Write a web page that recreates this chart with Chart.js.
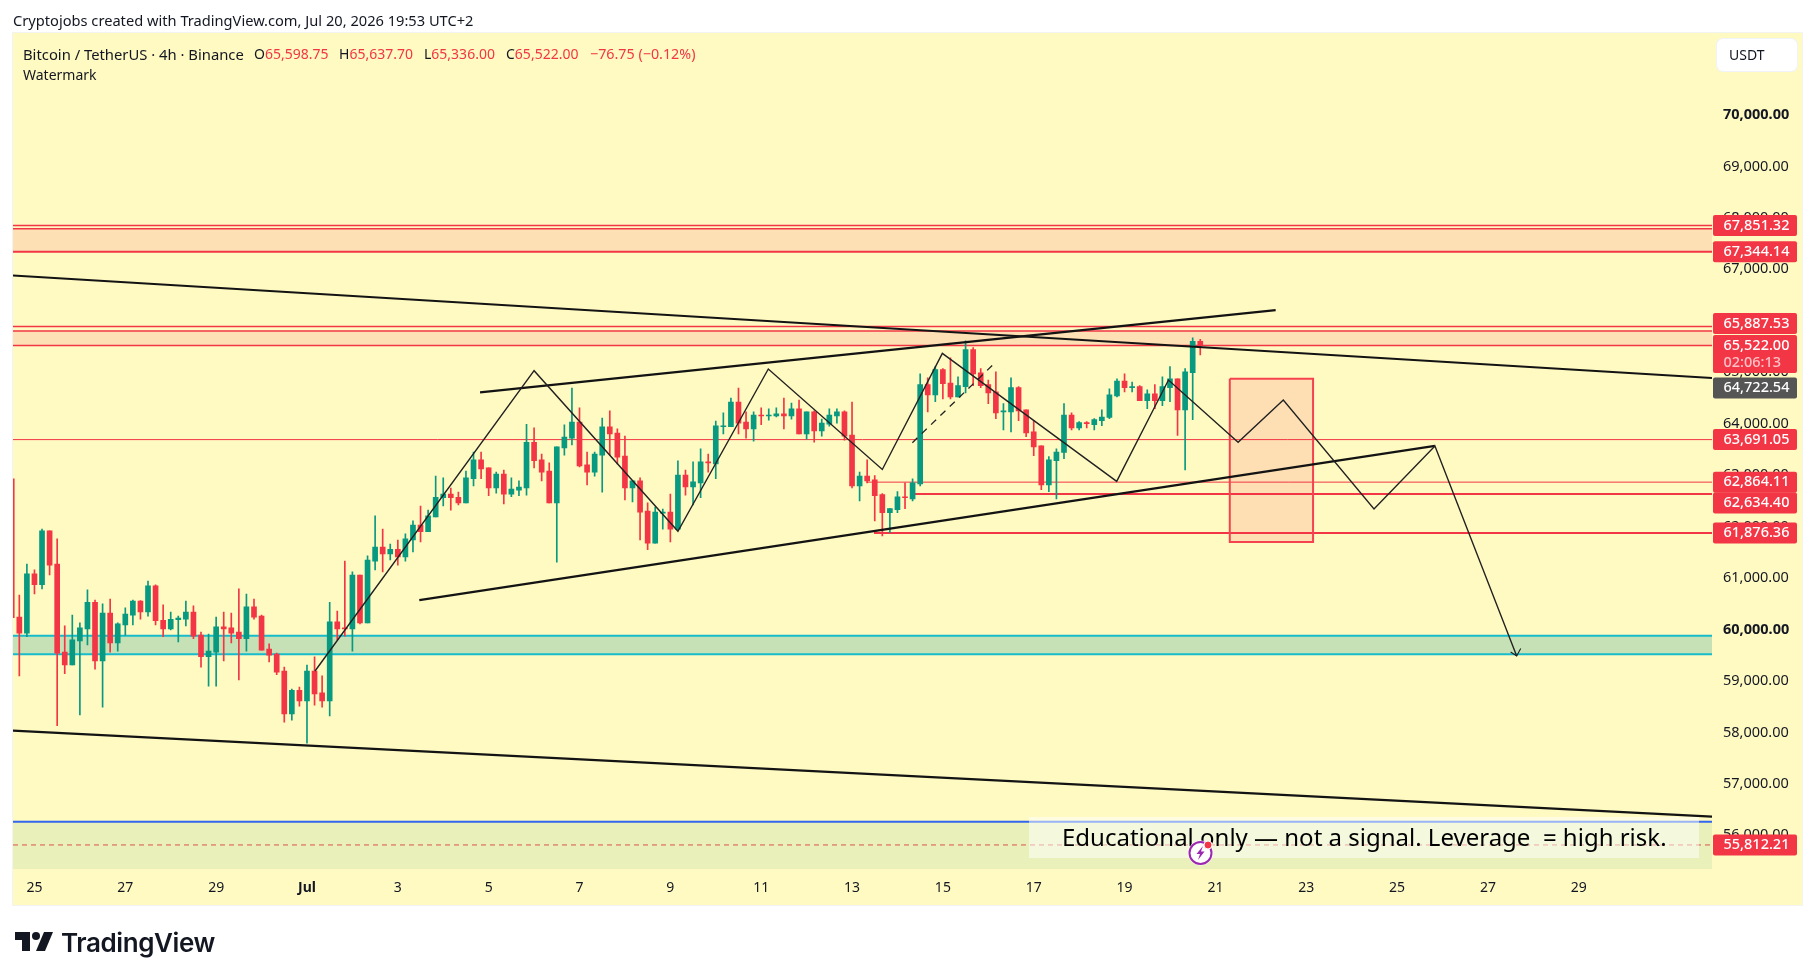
<!DOCTYPE html>
<html>
<head>
<meta charset="utf-8">
<title>BTC / USDT 4h</title>
<script src="https://cdn.jsdelivr.net/npm/chart.js@4"></script>
<style>
    html, body { margin: 0; padding: 0; background: #fff; overflow: hidden; }
    body { width: 1815px; height: 980px; position: relative; font-family: 'Noto Sans', sans-serif; color: #131722; }
    canvas { position: absolute; left: 0; top: 0; }
    .txt { position: absolute; white-space: nowrap; font-size: 14px; line-height: 18px; }
    .red { color: #f23645; }
    #usdt { position: absolute; left: 1717px; top: 39px; width: 80px; height: 32px; background: #fff; border-radius: 6px; box-shadow: 0 0 0 1px #f0f3fa; font-size: 14px; line-height: 32px; text-indent: 12px; }
    #note { position: absolute; left: 1029px; top: 817px; width: 670px; height: 41px; background: rgba(255,255,255,0.5); }
    #note-text { position: absolute; left: 1062px; top: 819px; font-size: 24px; line-height: 36px; color: #000; white-space: nowrap; }
    #bolt { position: absolute; left: 1186px; top: 838px; }
    #logo { position: absolute; left: 15px; top: 932px; }
    #logo-text { position: absolute; left: 61px; top: 925px; font-family: Inter, sans-serif; font-weight: 600; font-size: 26px; line-height: 36px; color: #131722; letter-spacing: -0.4px; }
</style>
</head>
<body>
<canvas id="chart" width="1815" height="980"></canvas>

<div class="txt" style="left:13px;top:11px;font-size:14.65px">Cryptojobs created with TradingView.com, Jul 20, 2026 19:53 UTC+2</div>
<div class="txt" style="left:23px;top:45px;font-size:14.8px">Bitcoin / TetherUS · 4h · Binance</div>
<div class="txt" style="left:254px;top:45px">O<span class="red">65,598.75</span></div>
<div class="txt" style="left:339px;top:45px">H<span class="red">65,637.70</span></div>
<div class="txt" style="left:424px;top:45px">L<span class="red">65,336.00</span></div>
<div class="txt" style="left:506px;top:45px">C<span class="red">65,522.00</span></div>
<div class="txt red" style="left:590px;top:45px;font-size:14.3px">−76.75 (−0.12%)</div>
<div class="txt" style="left:23px;top:66px">Watermark</div>
<div id="usdt">USDT</div>

<div id="note"></div>
<div id="note-text">Educational only — not a signal. Leverage&nbsp; = high risk.</div>
<svg id="bolt" width="30" height="30" viewBox="0 0 30 30">
    <circle cx="14.5" cy="15" r="12.5" fill="#fff"/>
    <circle cx="14.5" cy="15" r="11" fill="#fff" stroke="#9c27b0" stroke-width="2"/>
    <path d="M17 8 L10.5 16 L14 16 L12 22 L18.5 13.5 L15 13.5 Z" fill="#9c27b0"/>
    <circle cx="22" cy="7" r="4" fill="#f23645" stroke="#fff" stroke-width="1"/>
</svg>

<svg id="logo" width="40" height="20" viewBox="0 0 40 20">
    <path d="M0 0 H15 V19 H7 V8 H0 Z" fill="#131722"/>
    <circle cx="21" cy="4" r="4" fill="#131722"/>
    <path d="M29 0 H38 L30 19 H21 Z" fill="#131722"/>
</svg>
<div id="logo-text">TradingView</div>

<script>
// BTC/USDT 4h candles (candle 1 is clipped by the left edge)
const opens = [62930,60240,59930,61080,60870,61920,61270,59560,59310,59780,
    60010,60530,59390,60320,59740,60090,60280,60550,60340,60850,
    60180,60010,60190,60200,60340,59890,59470,59560,60050,60030,
    59950,59820,60440,60260,59620,59520,59190,58360,58820,58610,
    59190,58770,58610,60150,60030,60010,61060,60130,61330,61600,
    61470,61560,61410,61740,62030,61900,62190,62560,62630,62570,
    62460,62930,63300,63140,62750,63020,62630,62710,62750,63640,
    63300,63080,62460,63530,63720,64030,63200,63060,63390,63940,
    63820,63370,62750,62890,62300,61680,62260,62280,61950,63000,
    62770,62850,63260,63220,63940,63940,64420,64030,63900,64170,
    64150,64150,64190,64150,64290,63800,64230,63860,63990,64150,
    64230,63780,62790,62980,62910,62620,62270,62330,62580,62540,
    62830,64760,64560,65050,64790,64520,64720,65440,64990,64760,
    64620,64230,64230,64700,64270,63840,63570,62810,63280,63440,
    64170,63920,64020,63980,64060,64120,64540,64830,64700,64720,
    64450,64580,64450,64700,64870,64270,64990,65598.75];
const highs = [62990,60670,61270,61160,61950,61920,61760,60070,60280,60130,
    60770,60570,60500,60590,60130,60420,60570,60560,60940,60870,
    60480,60340,60260,60550,60460,59950,59910,60240,60340,60320,
    60790,60690,60590,60280,59720,59540,59270,58840,58880,59310,
    59470,59100,60530,60360,61330,61120,61060,61430,62210,61950,
    61660,61740,61860,62110,62400,62320,62980,62950,62750,62670,
    63080,63450,63450,63140,63060,63100,62950,62890,63990,63920,
    63410,63240,63550,63980,64690,64310,63450,63450,64110,64250,
    63900,63760,62890,62950,62460,62380,62340,62630,63280,63100,
    63260,63510,63410,64050,64210,64500,64690,64230,64230,64310,
    64290,64310,64500,64400,64460,64230,64250,64090,64290,64290,
    64250,64420,63060,63300,62990,62640,62350,62680,62850,62930,
    64970,64890,65110,65070,65280,64910,65610,65480,65070,64850,
    65010,64390,64890,64720,64270,64060,63570,63360,63510,64390,
    64210,64040,64040,64100,64270,64680,64870,64970,64810,64740,
    64660,64760,64910,65110,64870,65070,65670,65637.7];
const lows = [60100,59100,59860,60690,60790,61060,58130,59140,59310,58340,
    59700,59230,58490,59560,59580,59890,60090,60200,60260,60090,
    59860,59990,59760,60070,59820,59270,58900,58900,59390,59740,
    59020,59580,60200,59600,59370,59120,58200,58240,58510,57790,
    58530,58490,58320,59800,59870,59580,60110,60130,61160,61120,
    61350,61250,61330,61510,61700,61900,62190,62400,62320,62420,
    62460,62790,62930,62600,62650,62440,62580,62600,62610,63140,
    62890,62460,61310,63390,63590,63160,62810,62980,62670,63390,
    63220,62520,62480,61740,61550,61680,61950,61700,61930,62610,
    62420,62560,63060,62930,63800,63940,63800,63720,63660,63980,
    64070,64130,63900,64090,63800,63700,63640,63760,63950,64010,
    63680,62750,62500,62850,62110,61820,61880,62270,62350,62500,
    62790,64230,64430,64480,64480,64520,64600,64740,64700,64390,
    64100,63880,63840,64060,63750,63380,62720,62680,62540,63320,
    63880,63880,63920,63880,63960,64100,64520,64620,64620,64450,
    64290,64290,64350,64430,63770,63100,64080,65336];
const closes = [60230,59930,61080,60870,61920,61250,59540,59310,59800,60030,
    60530,59390,60320,59740,60110,60300,60550,60340,60850,60170,
    60010,60200,60220,60340,59870,59470,59580,60050,60010,59930,
    59820,60440,60240,59600,59500,59170,58360,58820,58610,59190,
    58750,58610,60150,60010,60010,61060,60130,61350,61600,61470,
    61560,61410,61760,62030,61900,62210,62570,62630,62560,62460,
    62950,63300,63120,62750,63020,62630,62730,62770,63640,63280,
    63060,62460,63550,63740,64030,63180,63060,63410,63940,63800,
    63350,62750,62890,62280,61680,62280,62280,61950,63000,62770,
    62870,63260,63240,63960,63960,64420,64010,63900,64170,64150,
    64170,64190,64150,64290,63800,64230,63860,64010,64170,64230,
    63760,62790,62980,62890,62600,62270,62350,62580,62560,62850,
    64760,64560,65050,64780,64520,64740,65440,64970,64740,64600,
    64210,64250,64700,64250,63820,63550,62810,63300,63450,64170,
    63920,64020,64000,64080,64130,64560,64830,64700,64720,64450,
    64580,64450,64720,64870,64270,65010,65600,65522];

// Axis labels (a date label every 12 candles, starting from candle 4)
const xTickLabels = ['25','27','29','Jul','3','5','7','9','11','13','15','17','19','21','23','25','27','29'];
const yTicks = [70000,69000,68000,67000,66000,65000,64000,63000,62000,61000,60000,59000,58000,57000,56000];

// Price tags on the right axis
const tagPrices = [67851.32,67344.14,65887.53,65522.00,64722.54,63691.05,62864.11,62634.40,61876.36,55812.21];
const countdown = '02:06:13';

// Price levels and zones
const resistTop = [67851.32,67790,67344.14];
const resistMid = [65887.53,65800,65522];
const supportZone = [59880,59520];
const bottomZone = [56264,55339];
const dashedLevel = 55812.21;
const midLevel = 63691.05;

// Short levels: [start candle, price]
const shortLevels = [[113.9,62864.11],[120.3,62634.4],[114.9,61876.36]];

// Hand drawn lines: [candle, price]
const trendUpperDown = [[1.165,66880],[225.6,64888]];
const trendLowerDown = [[1.165,58033],[225.6,56361]];
const trendUpperUp = [[62.86,64610],[167.96,66206]];
const trendLowerUp = [[54.84,60573],[189,63567]];
const zigzag = [[41.06,59193],[70,65030],[89,61909],[100.94,65063],[116,63110],[123.93,65368],[146.96,62880],
    [153.8,64849],[163,63638],[168.97,64461],[180.95,62342],[189,63567],[199.8,59485]];
const arrowHead = [[200.33,59631],[199.8,59485],[199,59563]];
const dashedSegment = [[119.97,63631],[130.9,65186]];
const targetBox = [161.9,172.9,64875,61700];

const X_MIN = 1.165, X_MAX = 225.6;
const Y_MIN = 55339, Y_MAX = 71594;

const UP = '#089981', DOWN = '#f23645', INK = '#131313';
const FONT = "'Noto Sans', sans-serif";

const toPts = arr => arr.map(p => ({ x: p[0], y: p[1] }));

// Polyline in chart values
function drawing(points, color, width, order, dash) {
    return {
        type: 'line',
        data: toPts(points),
        borderColor: color,
        borderWidth: width,
        borderDash: dash || [],
        pointRadius: 0,
        fill: false,
        order: order
    };
}

// Flat line across the whole plot
function level(price, color, width, dash) {
    return drawing([[X_MIN, price], [X_MAX, price]], color, width, 10, dash);
}

// Level that starts part way along and runs to the right edge
function shortLevel(item, width) {
    return drawing([item, [X_MAX, item[1]]], DOWN, width, 10);
}

// Filled band between two prices
function zone(top, bottom, x1, x2, color, order) {
    return {
        type: 'line',
        data: toPts([[x1, top], [x2, top]]),
        borderWidth: 0,
        backgroundColor: color,
        pointRadius: 0,
        fill: { value: bottom },
        order: order
    };
}

const candleColors = closes.map((c, i) => c >= opens[i] ? UP : DOWN);
const wicks = {
    type: 'bar',
    data: opens.map((o, i) => ({ x: i + 1, y: [lows[i], highs[i]] })),
    backgroundColor: candleColors,
    barThickness: 1,
    grouped: false,
    order: 6
};
const bodies = {
    type: 'bar',
    data: opens.map((o, i) => ({ x: i + 1, y: [o, closes[i]] })),
    backgroundColor: candleColors,
    barThickness: 5,
    minBarLength: 1,
    grouped: false,
    order: 5
};

const [bx1, bx2, bTop, bBottom] = targetBox;
const datasets = [
    zone(resistTop[1], resistTop[2], X_MIN, X_MAX, '#fde0b4', 20),
    zone(resistMid[1], resistMid[2], X_MIN, X_MAX, '#fde0b4', 20),
    zone(supportZone[0], supportZone[1], X_MIN, X_MAX, '#c5e1b5', 20),
    zone(bottomZone[0], bottomZone[1], X_MIN, X_MAX, '#e9f0b9', 20),
    zone(bTop, bBottom, bx1, bx2, '#fddfb3', 19),
    level(resistTop[0], DOWN, 1.5),
    level(resistTop[1], DOWN, 1.5),
    level(resistTop[2], DOWN, 2),
    level(resistMid[0], DOWN, 1.5),
    level(resistMid[1], DOWN, 1.5),
    level(resistMid[2], DOWN, 1.5),
    level(midLevel, DOWN, 1),
    level(supportZone[0], '#16bccb', 2),
    level(supportZone[1], '#16bccb', 2),
    level(bottomZone[0], '#3366ee', 2),
    level(dashedLevel, '#d9534f', 1, [5, 4]),
    shortLevel(shortLevels[0], 1),
    shortLevel(shortLevels[1], 2),
    shortLevel(shortLevels[2], 2),
    wicks,
    bodies,
    drawing(trendUpperDown, INK, 1.9, 3),
    drawing(trendLowerDown, INK, 2.3, 3),
    drawing(trendUpperUp, INK, 2.3, 3),
    drawing(trendLowerUp, INK, 2.3, 3),
    drawing(zigzag, '#222222', 1.4, 2),
    drawing(arrowHead, '#222222', 1.1, 2),
    drawing(dashedSegment, '#222222', 1.3, 2, [7, 6]),
    drawing([[bx1, bTop], [bx2, bTop], [bx2, bBottom], [bx1, bBottom], [bx1, bTop]], '#f5424f', 2, 4)
];

// Panel behind the plot
const panelPlugin = {
    id: 'panel',
    beforeDraw(chart) {
        const c = chart.ctx;
        c.save();
        c.fillStyle = '#f3f3f1';
        c.fillRect(12, 32, 1791, 874);
        c.fillStyle = '#fff9c2';
        c.fillRect(13, 33, 1789, 872);
        c.restore();
    }
};

// Price tags over the axis labels
const tagShift = [0, 0, -3, 0, 1.5, 0, 0, 9, 0, 0];
const tagPlugin = {
    id: 'tags',
    afterDraw(chart) {
        const c = chart.ctx;
        const y = chart.scales.y;
        c.save();
        c.textBaseline = 'middle';
        c.font = '500 14.5px ' + FONT;
        tagPrices.forEach((p, i) => {
            const py = y.getPixelForValue(p) + tagShift[i];
            const isLast = p === 65522;
            c.fillStyle = p === 64722.54 ? '#555555' : DOWN;
            c.beginPath();
            c.roundRect(1713, py - 10.5, 84, isLast ? 38 : 21, 2);
            c.fill();
            c.fillStyle = '#fff';
            c.fillText(p.toLocaleString('en-US', { minimumFractionDigits: 2, maximumFractionDigits: 2 }), 1723.5, py);
            if (isLast) {
                c.fillStyle = '#ffc2c7';
                c.fillText(countdown, 1723.5, py + 17);
            }
        });
        c.restore();
    }
};

new Chart(document.getElementById('chart'), {
    type: 'bar',
    data: { datasets: datasets },
    plugins: [panelPlugin, tagPlugin],
    options: {
        responsive: false,
        animation: false,
        events: [],
        layout: { padding: { left: 13, top: 33, right: 0, bottom: 0 } },
        plugins: { legend: { display: false }, tooltip: { enabled: false } },
        scales: {
            x: {
                type: 'linear',
                offset: false,
                min: X_MIN,
                max: X_MAX,
                grid: { display: false },
                border: { display: false },
                afterFit: axis => { axis.height = 110.7; },
                afterBuildTicks: axis => {
                    axis.ticks = xTickLabels.map((l, i) => ({ value: 4 + i * 12 }));
                },
                ticks: {
                    autoSkip: false,
                    maxRotation: 0,
                    padding: 2,
                    color: '#131722',
                    font: ctx => ({ family: FONT, size: 14, weight: xTickLabels[ctx.index] === 'Jul' ? 'bold' : 'normal' }),
                    callback: (v, i) => xTickLabels[i]
                }
            },
            y: {
                position: 'right',
                min: Y_MIN,
                max: Y_MAX,
                grid: { display: false },
                border: { display: false },
                afterFit: axis => { axis.width = 103; },
                afterBuildTicks: axis => {
                    axis.ticks = yTicks.map(v => ({ value: v }));
                },
                ticks: {
                    padding: 3,
                    color: '#131722',
                    font: ctx => ({ family: FONT, size: 14.5, weight: (ctx.tick && ctx.tick.value % 10000 === 0) ? 'bold' : 'normal' }),
                    callback: v => v.toLocaleString('en-US', { minimumFractionDigits: 2 })
                }
            }
        }
    }
});
</script>
</body>
</html>
